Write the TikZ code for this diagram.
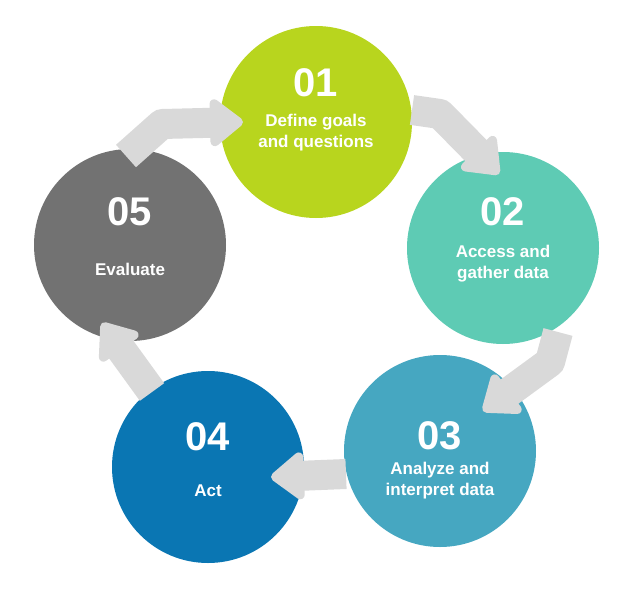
\documentclass[tikz,border=0pt]{standalone}
\usepackage{fontspec}
\setmainfont{Liberation Sans}
\usetikzlibrary{arrows.meta}
\definecolor{cA}{HTML}{B8D51E}
\definecolor{cB}{HTML}{5ECBB4}
\definecolor{cC}{HTML}{46A7C1}
\definecolor{cD}{HTML}{0A76B3}
\definecolor{cE}{HTML}{727272}
\definecolor{arr}{HTML}{D9D9D9}
\begin{document}
\begin{tikzpicture}[x=1pt,y=-1pt,
  stage/.style={circle,minimum size=192pt,inner sep=0pt},
  num/.style={text=white,font=\bfseries\fontsize{40}{40}\selectfont},
  lab/.style={text=white,align=center,font=\bfseries\fontsize{17}{21}\selectfont},
  blk/.style={draw=arr,line width=30pt,line join=round,-{Triangle[width=54pt,length=36pt,round]}}]
\useasboundingbox (0,0) rectangle (632,592);
\node[stage,fill=cA] (s1) at (316,122) {};
\node[stage,fill=cB] (s2) at (503,248) {};
\node[stage,fill=cC] (s3) at (440,451) {};
\node[stage,fill=cD] (s4) at (208,467) {};
\node[stage,fill=cE] (s5) at (130,245) {};
\coordinate (a0) at (126,156); \coordinate (a1) at (162,124); \coordinate (a2) at (243,122);
\coordinate (b0) at (412,110); \coordinate (b1) at (440,114); \coordinate (b2) at (499,174);
\coordinate (c0) at (558,332); \coordinate (c1) at (550,362); \coordinate (c2) at (483,411);
\coordinate (d0) at (346,474); \coordinate (d2) at (271,477);
\coordinate (e0) at (152,392); \coordinate (e2) at (102,323);
\draw[blk] (a0) -- (a1) -- (a2);
\draw[blk] (b0) -- (b1) -- (b2);
\draw[blk] (c0) -- (c1) -- (c2);
\draw[blk] (d0) -- (d2);
\draw[blk] (e0) -- (e2);
\node[num] (n1) at (316,83) {01};
\node[lab] (t1) at (316,133) {Define goals\\and questions};
\node[num] (n2) at (503,212) {02};
\node[lab] (t2) at (503,264) {Access and\\gather data};
\node[num] (n3) at (440,436) {03};
\node[lab] (t3) at (440,481) {Analyze and\\interpret data};
\node[num] (n4) at (208,437) {04};
\node[lab] (t4) at (208,491) {Act};
\node[num] (n5) at (130,212) {05};
\node[lab] (t5) at (130,269) {Evaluate};
\end{tikzpicture}
\end{document}
